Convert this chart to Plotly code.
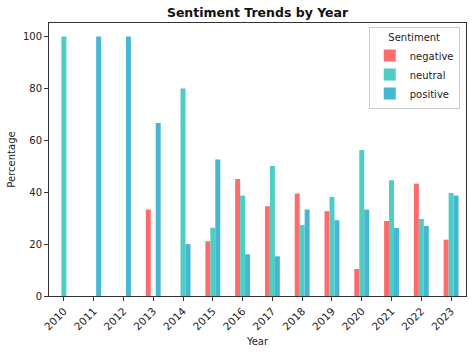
import plotly.graph_objects as go

years = ["2010", "2011", "2012", "2013", "2014", "2015", "2016", "2017",
         "2018", "2019", "2020", "2021", "2022", "2023"]
negative = [0, 0, 0, 33.3, 0, 21.1, 45.1, 34.6, 39.5, 32.7, 10.4, 28.9, 43.3, 21.7]
neutral = [100, 0, 0, 0, 80.0, 26.3, 38.7, 50.1, 27.4, 38.2, 56.3, 44.6, 29.7, 39.7]
positive = [0, 100, 100, 66.7, 20.0, 52.6, 16.1, 15.3, 33.3, 29.2, 33.3, 26.2, 27.0, 38.7]

series = [("negative", negative, "#FF6B6B"),
          ("neutral", neutral, "#4ECDC4"),
          ("positive", positive, "#45B7D1")]

FONT = "DejaVu Sans"
fig = go.Figure()
for name, vals, color in series:
    fig.add_trace(go.Bar(x=years, y=vals, name=name, marker_color=color,
                         marker_line_width=0))

fig.update_layout(
    width=474, height=352,
    margin=dict(l=49, r=8, t=23, b=56),
    paper_bgcolor="white", plot_bgcolor="white",
    barmode="group", bargap=0.5, bargroupgap=0,
    font=dict(family=FONT, size=10, color="#222"),
    title=dict(text="<b>Sentiment Trends by Year</b>", x=0.5, xref="paper",
               xanchor="center", y=0.965, yanchor="middle",
               font=dict(family=FONT, size=12.5, color="#111")),
    legend=dict(x=0.985, y=0.985, xanchor="right", yanchor="top",
                bordercolor="#cccccc", borderwidth=1, bgcolor="rgba(255,255,255,0.9)",
                title=dict(text="Sentiment", side="top center", font=dict(size=10)),
                font=dict(size=10), tracegroupgap=0, itemwidth=30),
)
fig.update_xaxes(type="category", range=[-0.5, 13.5], tickangle=-45,
                 showline=True, mirror=True, linecolor="#333", linewidth=1,
                 ticks="outside", ticklen=4, tickcolor="#333", showgrid=False,
                 title=dict(text="Year", font=dict(size=10), standoff=6),
                 tickfont=dict(size=10.5))
fig.update_yaxes(range=[0, 105.2], tickvals=[0, 20, 40, 60, 80, 100],
                 showline=True, mirror=True, linecolor="#333", linewidth=1,
                 ticks="outside", ticklen=4, tickcolor="#333", showgrid=False,
                 zeroline=False,
                 title=dict(text="Percentage", font=dict(size=10), standoff=5),
                 tickfont=dict(size=10))

fig.write_html("out.html")
